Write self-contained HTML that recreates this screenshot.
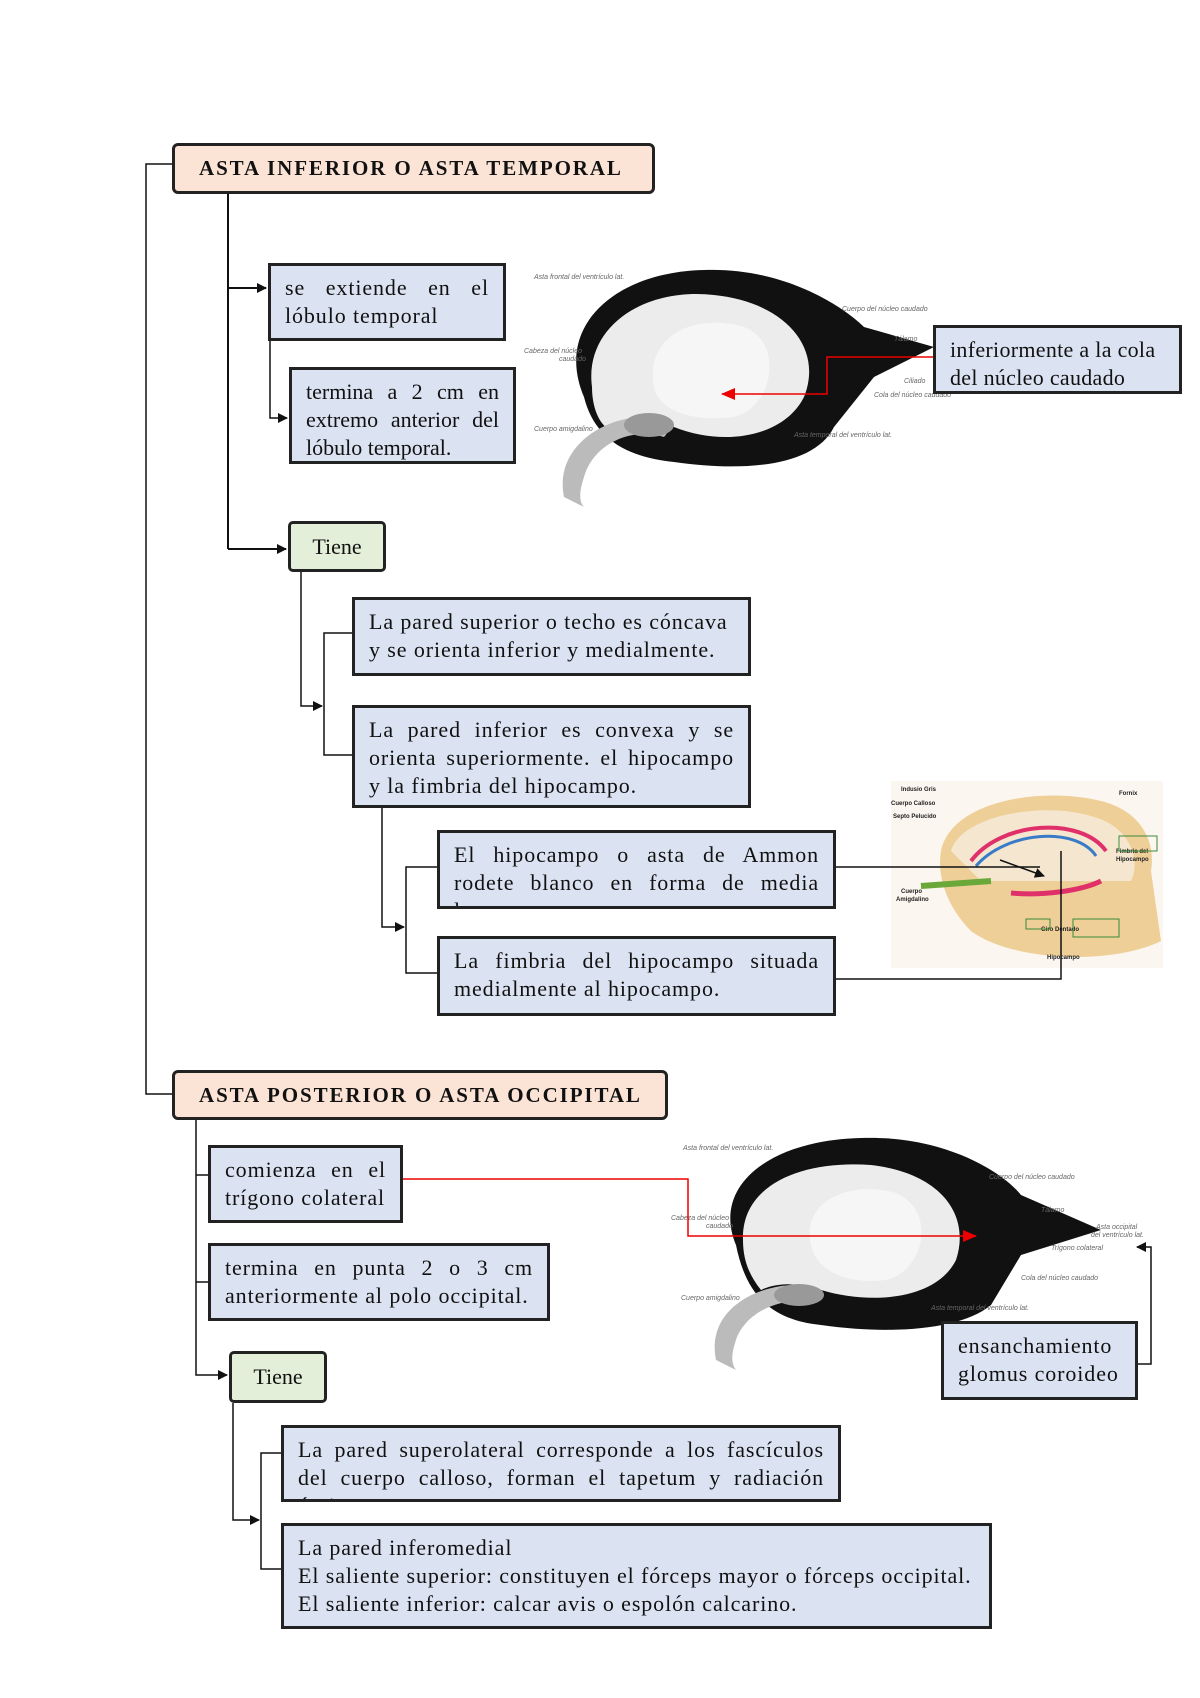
<!DOCTYPE html>
<html><head><meta charset="utf-8"><style>
body{margin:0;background:#fff;}
#c{position:relative;width:1200px;height:1698px;overflow:hidden;background:#fff;font-family:"Liberation Serif",serif;color:#111;}
.b{position:absolute;box-sizing:border-box;background:#dbe3f2;border:3px solid #222;font-size:22px;line-height:28px;padding:8px 14px 0 14px;text-align:justify;letter-spacing:0.9px;overflow:hidden;}
.j{text-align-last:justify;}
.t{position:absolute;box-sizing:border-box;background:#fbe4d6;border:3px solid #222;border-radius:6px;font-weight:bold;font-size:21px;padding-top:10px;padding-left:24px;letter-spacing:1.9px;white-space:nowrap;}
.g{position:absolute;box-sizing:border-box;background:#e3efd9;border:3px solid #222;border-radius:5px;font-size:22px;text-align:center;padding-top:10px;}
svg{position:absolute;left:0;top:0;}
</style></head><body><div id="c">
<svg width="1200" height="1698">
<defs>
<marker id="a" markerWidth="10" markerHeight="10" refX="9" refY="5" orient="auto" markerUnits="userSpaceOnUse"><path d="M0,0 L10,5 L0,10z" fill="#111"/></marker>
<marker id="r" markerWidth="14" markerHeight="12" refX="13" refY="6" orient="auto" markerUnits="userSpaceOnUse"><path d="M0,0 L14,6 L0,12z" fill="#e00"/></marker>
</defs>
<g transform="translate(524,267)">
<path d="M60,130 C30,60 90,5 180,3 C260,0 320,40 340,60 L410,80 L350,110 L310,160 C290,200 220,205 150,195 C100,190 70,170 60,130z" fill="#111"/>
<path d="M68,120 C60,60 120,20 190,28 C260,35 300,80 280,130 C260,170 200,180 150,160 C120,150 100,160 90,165 C75,160 68,140 68,120z" fill="#ececec"/>
<path d="M130,120 C120,70 170,45 220,60 C260,75 250,140 210,150 C170,155 135,145 130,120z" fill="#f6f6f6"/>
<path d="M40,230 C30,180 80,150 120,150 C140,150 150,160 140,170 C110,160 70,175 60,210 C55,225 55,235 60,240z" fill="#bbb"/>
<ellipse cx="125" cy="158" rx="25" ry="12" fill="#999"/>
<g font-size="7" fill="#666" font-style="italic" font-family="Liberation Sans,sans-serif">
<text x="10" y="12">Asta frontal del ventrículo lat.</text>
<text x="0" y="86">Cabeza del núcleo</text><text x="35" y="94">caudado</text>
<text x="10" y="164">Cuerpo amigdalino</text>
<text x="318" y="44">Cuerpo del núcleo caudado</text>
<text x="370" y="74">Tálamo</text>
<text x="380" y="116">Ciliado</text>
<text x="350" y="130">Cola del núcleo caudado</text>
<text x="270" y="170">Asta temporal del ventrículo lat.</text>
</g></g>
<g transform="translate(891,781)">
<rect width="272" height="187" fill="#fbf6ef"/>
<path d="M50,70 C60,20 150,5 210,20 C250,30 265,60 260,90 L270,160 C220,185 120,180 80,150 C60,130 45,100 50,70z" fill="#efcf98"/>
<path d="M60,70 C70,35 150,20 200,35 C240,45 250,80 240,100 L90,100z" fill="#f5e6d0"/>
<path d="M80,80 C110,40 190,35 215,70" stroke="#e0306a" stroke-width="4" fill="none"/>
<path d="M85,85 C115,50 185,45 205,75" stroke="#3a7bc8" stroke-width="3" fill="none"/>
<path d="M30,105 L100,100" stroke="#6aa83a" stroke-width="6"/>
<path d="M120,112 C150,115 190,110 210,100" stroke="#e0306a" stroke-width="5" fill="none"/>
<g font-size="6" font-weight="bold" font-family="Liberation Sans,sans-serif" fill="#222">
<text x="10" y="10">Indusio Gris</text><text x="0" y="24">Cuerpo Calloso</text><text x="2" y="37">Septo Pelucido</text>
<text x="228" y="14">Fornix</text><text x="225" y="72">Fimbria del</text><text x="225" y="80">Hipocampo</text>
<text x="10" y="112">Cuerpo</text><text x="5" y="120">Amigdalino</text>
<text x="150" y="150">Giro Dentado</text><text x="156" y="178">Hipocampo</text>
</g>
<rect x="228" y="55" width="38" height="15" fill="none" stroke="#3a8a3a"/>
<rect x="135" y="138" width="24" height="10" fill="none" stroke="#3a8a3a"/>
<rect x="182" y="138" width="46" height="18" fill="none" stroke="#3a8a3a"/>
</g>
<g transform="translate(671,1135)">
<path d="M65,110 C40,50 100,5 190,3 C270,0 330,35 350,60 L430,95 L350,120 L320,170 C290,195 220,200 150,190 C100,185 75,160 65,110z" fill="#111"/>
<path d="M72,105 C70,50 130,25 200,30 C270,38 300,80 285,125 C265,165 200,170 150,155 C120,145 100,150 90,155 C78,140 72,125 72,105z" fill="#ececec"/>
<path d="M140,110 C130,65 180,45 225,58 C265,75 255,135 215,145 C175,150 145,135 140,110z" fill="#f6f6f6"/>
<path d="M45,225 C35,175 85,150 125,150 C145,150 155,160 145,168 C115,160 75,175 65,205 C60,220 60,228 65,235z" fill="#bbb"/>
<ellipse cx="128" cy="160" rx="25" ry="11" fill="#999"/>
<g font-size="7" fill="#666" font-style="italic" font-family="Liberation Sans,sans-serif">
<text x="12" y="15">Asta frontal del ventrículo lat.</text>
<text x="0" y="85">Cabeza del núcleo</text><text x="35" y="93">caudado</text>
<text x="10" y="165">Cuerpo amigdalino</text>
<text x="318" y="44">Cuerpo del núcleo caudado</text>
<text x="370" y="77">Tálamo</text>
<text x="425" y="94">Asta occipital</text><text x="420" y="102">del ventrículo lat.</text>
<text x="380" y="115">Trígono colateral</text>
<text x="350" y="145">Cola del núcleo caudado</text>
<text x="260" y="175">Asta temporal del ventrículo lat.</text>
</g></g>
<g stroke="#111" stroke-width="1.5" fill="none">
<path d="M172,164 H146 V1094 H172"/>
<path d="M228,194 V549" stroke-width="2"/>
<path d="M228,288 H266" marker-end="url(#a)" stroke-width="2"/>
<path d="M228,549 H286" marker-end="url(#a)" stroke-width="2"/>
<path d="M270,341 V418 H287" marker-end="url(#a)"/>
<path d="M301,572 V706 H322" marker-end="url(#a)"/>
<path d="M352,633 H324 V755 H352"/>
<path d="M382,808 V927 H404" marker-end="url(#a)"/>
<path d="M437,867 H406 V973 H437"/>
<path d="M836,867 H1040" />
<path d="M836,979 H1061 V851"/>
<path d="M196,1120 V1375 H227" marker-end="url(#a)"/>
<path d="M196,1175 H208 M196,1282 H208"/>
<path d="M233,1403 V1520 H259" marker-end="url(#a)"/>
<path d="M281,1453 H261 V1569 H281"/>
<path d="M1138,1364 H1151 V1247 H1137" marker-end="url(#a)"/>
</g>
<path d="M1000,860 L1044,876" stroke="#111" stroke-width="1.5" marker-end="url(#a)"/>
<g stroke="#e00" stroke-width="1.5" fill="none">
<path d="M933,357 H827 V394 H722" marker-end="url(#r)"/>
<path d="M403,1179 H688 V1236 H976" marker-end="url(#r)"/>
</g>
</svg>
<div class="t" style="left:172px;top:143px;width:483px;height:51px;">ASTA INFERIOR O ASTA TEMPORAL</div>
<div class="b" style="left:268px;top:263px;width:238px;height:78px;"><div class="j">se extiende en el</div>lóbulo temporal</div>
<div class="b" style="left:289px;top:367px;width:227px;height:97px;letter-spacing:0;white-space:nowrap;"><div class="j">termina a 2 cm en</div><div class="j">extremo anterior del</div>lóbulo temporal.</div>
<div class="g" style="left:288px;top:521px;width:98px;height:51px;">Tiene</div>
<div class="b" style="left:933px;top:325px;width:249px;height:69px;text-align:left;letter-spacing:0.3px;">inferiormente a la cola del núcleo caudado</div>
<div class="b" style="left:352px;top:597px;width:399px;height:79px;text-align:left;">La pared superior o techo es cóncava y se orienta inferior y medialmente.</div>
<div class="b" style="left:352px;top:705px;width:399px;height:103px;">La pared inferior es convexa y se orienta superiormente. el hipocampo y la fimbria del hipocampo.</div>
<div class="b" style="left:437px;top:830px;width:399px;height:79px;"><div class="j">El hipocampo o asta de Ammon</div><div class="j">rodete blanco en forma de media</div>luna</div>
<div class="b" style="left:437px;top:936px;width:399px;height:80px;"><div class="j">La fimbria del hipocampo situada</div>medialmente al hipocampo.</div>
<div class="t" style="left:172px;top:1070px;width:496px;height:50px;">ASTA POSTERIOR O ASTA OCCIPITAL</div>
<div class="b" style="left:208px;top:1145px;width:195px;height:78px;"><div class="j">comienza en el</div>trígono colateral</div>
<div class="b" style="left:208px;top:1243px;width:342px;height:78px;"><div class="j">termina en punta 2 o 3 cm</div>anteriormente al polo occipital.</div>
<div class="g" style="left:229px;top:1351px;width:98px;height:52px;">Tiene</div>
<div class="b" style="left:941px;top:1321px;width:197px;height:79px;text-align:left;">ensanchamiento glomus coroideo</div>
<div class="b" style="left:281px;top:1425px;width:560px;height:77px;"><div class="j">La pared superolateral corresponde a los fascículos</div><div class="j">del cuerpo calloso, forman el tapetum y radiación</div>óptica</div>
<div class="b" style="left:281px;top:1523px;width:711px;height:106px;text-align:left;white-space:nowrap;">La pared inferomedial<br>El saliente superior: constituyen el fórceps mayor o fórceps occipital.<br>El saliente inferior: calcar avis o espolón calcarino.</div>
</div></body></html>
